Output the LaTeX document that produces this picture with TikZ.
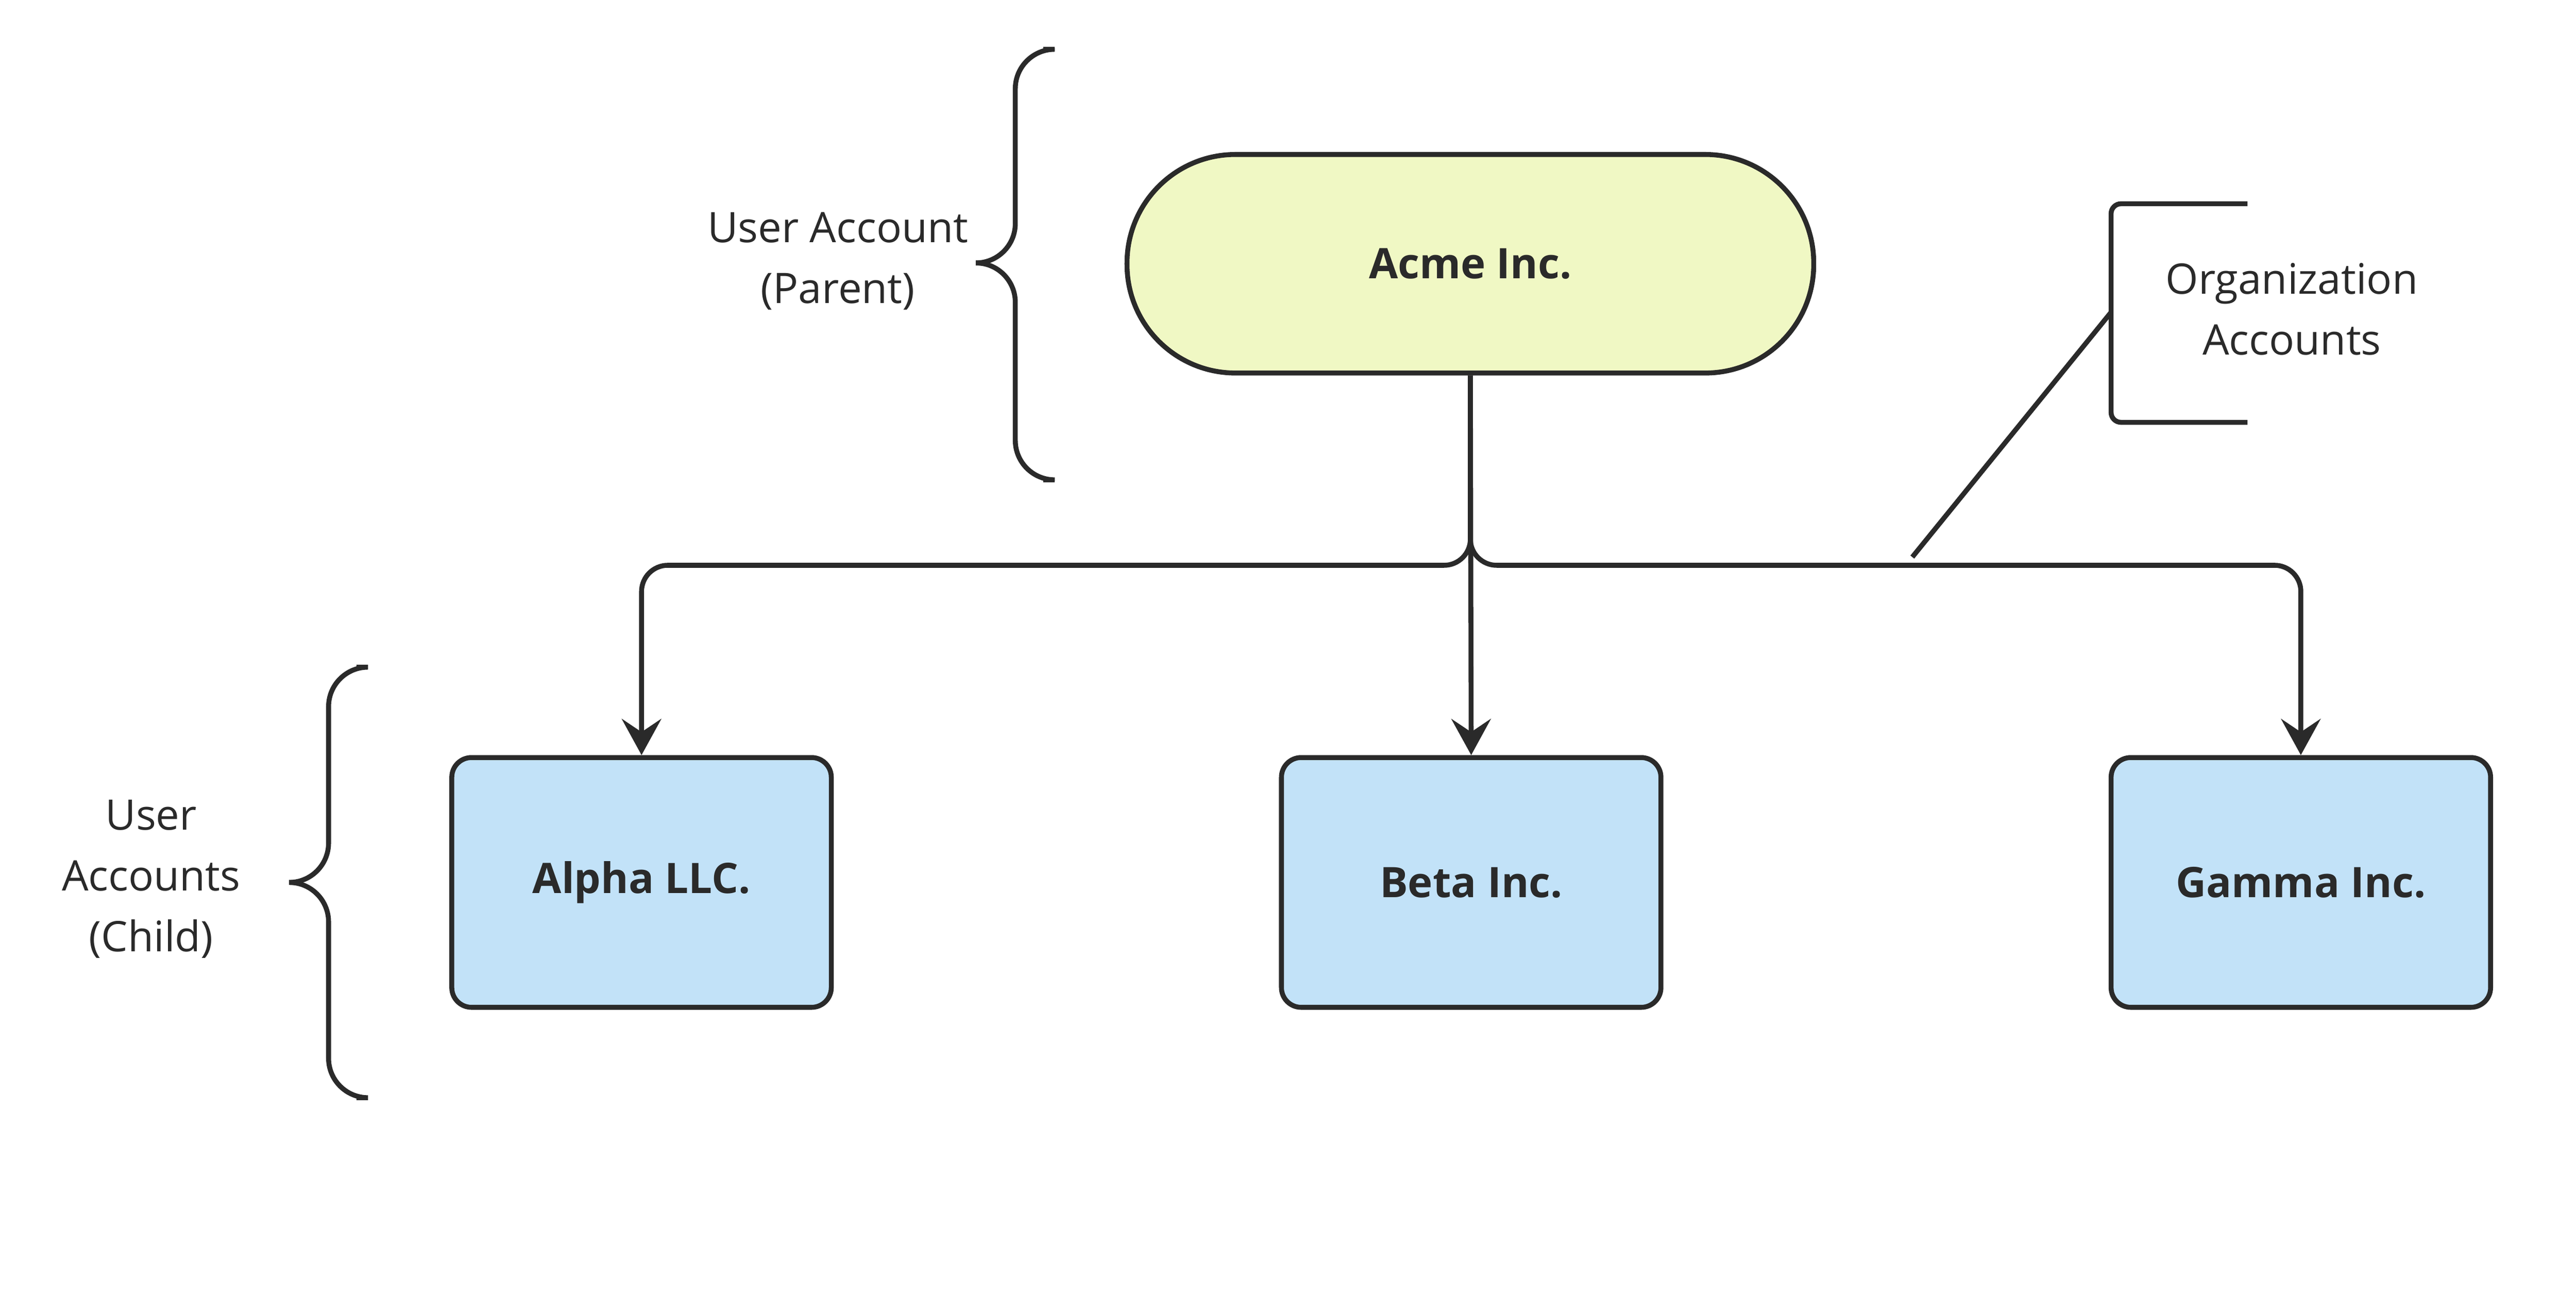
\documentclass[tikz,border=0pt]{standalone}
\usepackage{fontspec}
\setmainfont{Open Sans}
\usetikzlibrary{arrows.meta}
\definecolor{lc}{HTML}{2A2A2A}
\definecolor{acmefill}{HTML}{F0F8C4}
\definecolor{boxfill}{HTML}{C2E2F8}
\tikzset{
  ln/.style={draw=lc,line width=1.5pt},
  acmebox/.style={ln,fill=acmefill,rounded corners=33pt,minimum width=209pt,minimum height=66.5pt,font=\bfseries\fontsize{12.8}{14}\selectfont,text=lc},
  cbox/.style={ln,fill=boxfill,rounded corners=6pt,minimum width=115.5pt,minimum height=76pt,font=\bfseries\fontsize{12.8}{14}\selectfont,text=lc},
  lbl/.style={align=center,font=\fontsize{12.8}{18.5}\selectfont,text=lc},
  arr/.style={ln,-{Stealth[length=11pt,width=12pt,inset=4pt]},rounded corners=8pt}
}
\begin{document}
\begin{tikzpicture}[x=0.5pt,y=-0.5pt]
\useasboundingbox (0,0) rectangle (1568,787.8);
\node[acmebox] (acme) at (895,160.5) {Acme Inc.};
\node[cbox] (alpha) at (390.5,537) {Alpha LLC.};
\node[cbox] (beta) at (895.5,537) {Beta Inc.};
\node[cbox] (gamma) at (1400.5,537) {Gamma Inc.};
\coordinate (j) at (895,344);
\draw[arr] (acme.south) -- (beta.north);
\draw[arr] (acme.south) |- (j) -| (alpha.north);
\draw[arr] (acme.south) |- (j) -| (gamma.north);
% braces
\draw[ln,rounded corners=12pt] (635,30) -- (618,30) -- (618,160) -- (600,160);
\draw[ln,rounded corners=12pt] (635,292) -- (618,292) -- (618,160) -- (600,160);
\draw[ln,rounded corners=12pt] (217,406) -- (200,406) -- (200,537) -- (182,537);
\draw[ln,rounded corners=12pt] (217,668) -- (200,668) -- (200,537) -- (182,537);
\node[lbl] (t1) at (510,159) {User Account\\(Parent)};
\node[lbl] (t2) at (92,535) {User\\Accounts\\(Child)};
% org bracket
\draw[ln,rounded corners=3pt] (1368,124) -- (1285,124) -- (1285,257) -- (1368,257);
\coordinate (bm) at (1285,190);
\coordinate (lp) at (1164,339);
\draw[ln] (bm) -- (lp);
\node[lbl] (t3) at (1395,188) {Organization\\Accounts};
\end{tikzpicture}
\end{document}
